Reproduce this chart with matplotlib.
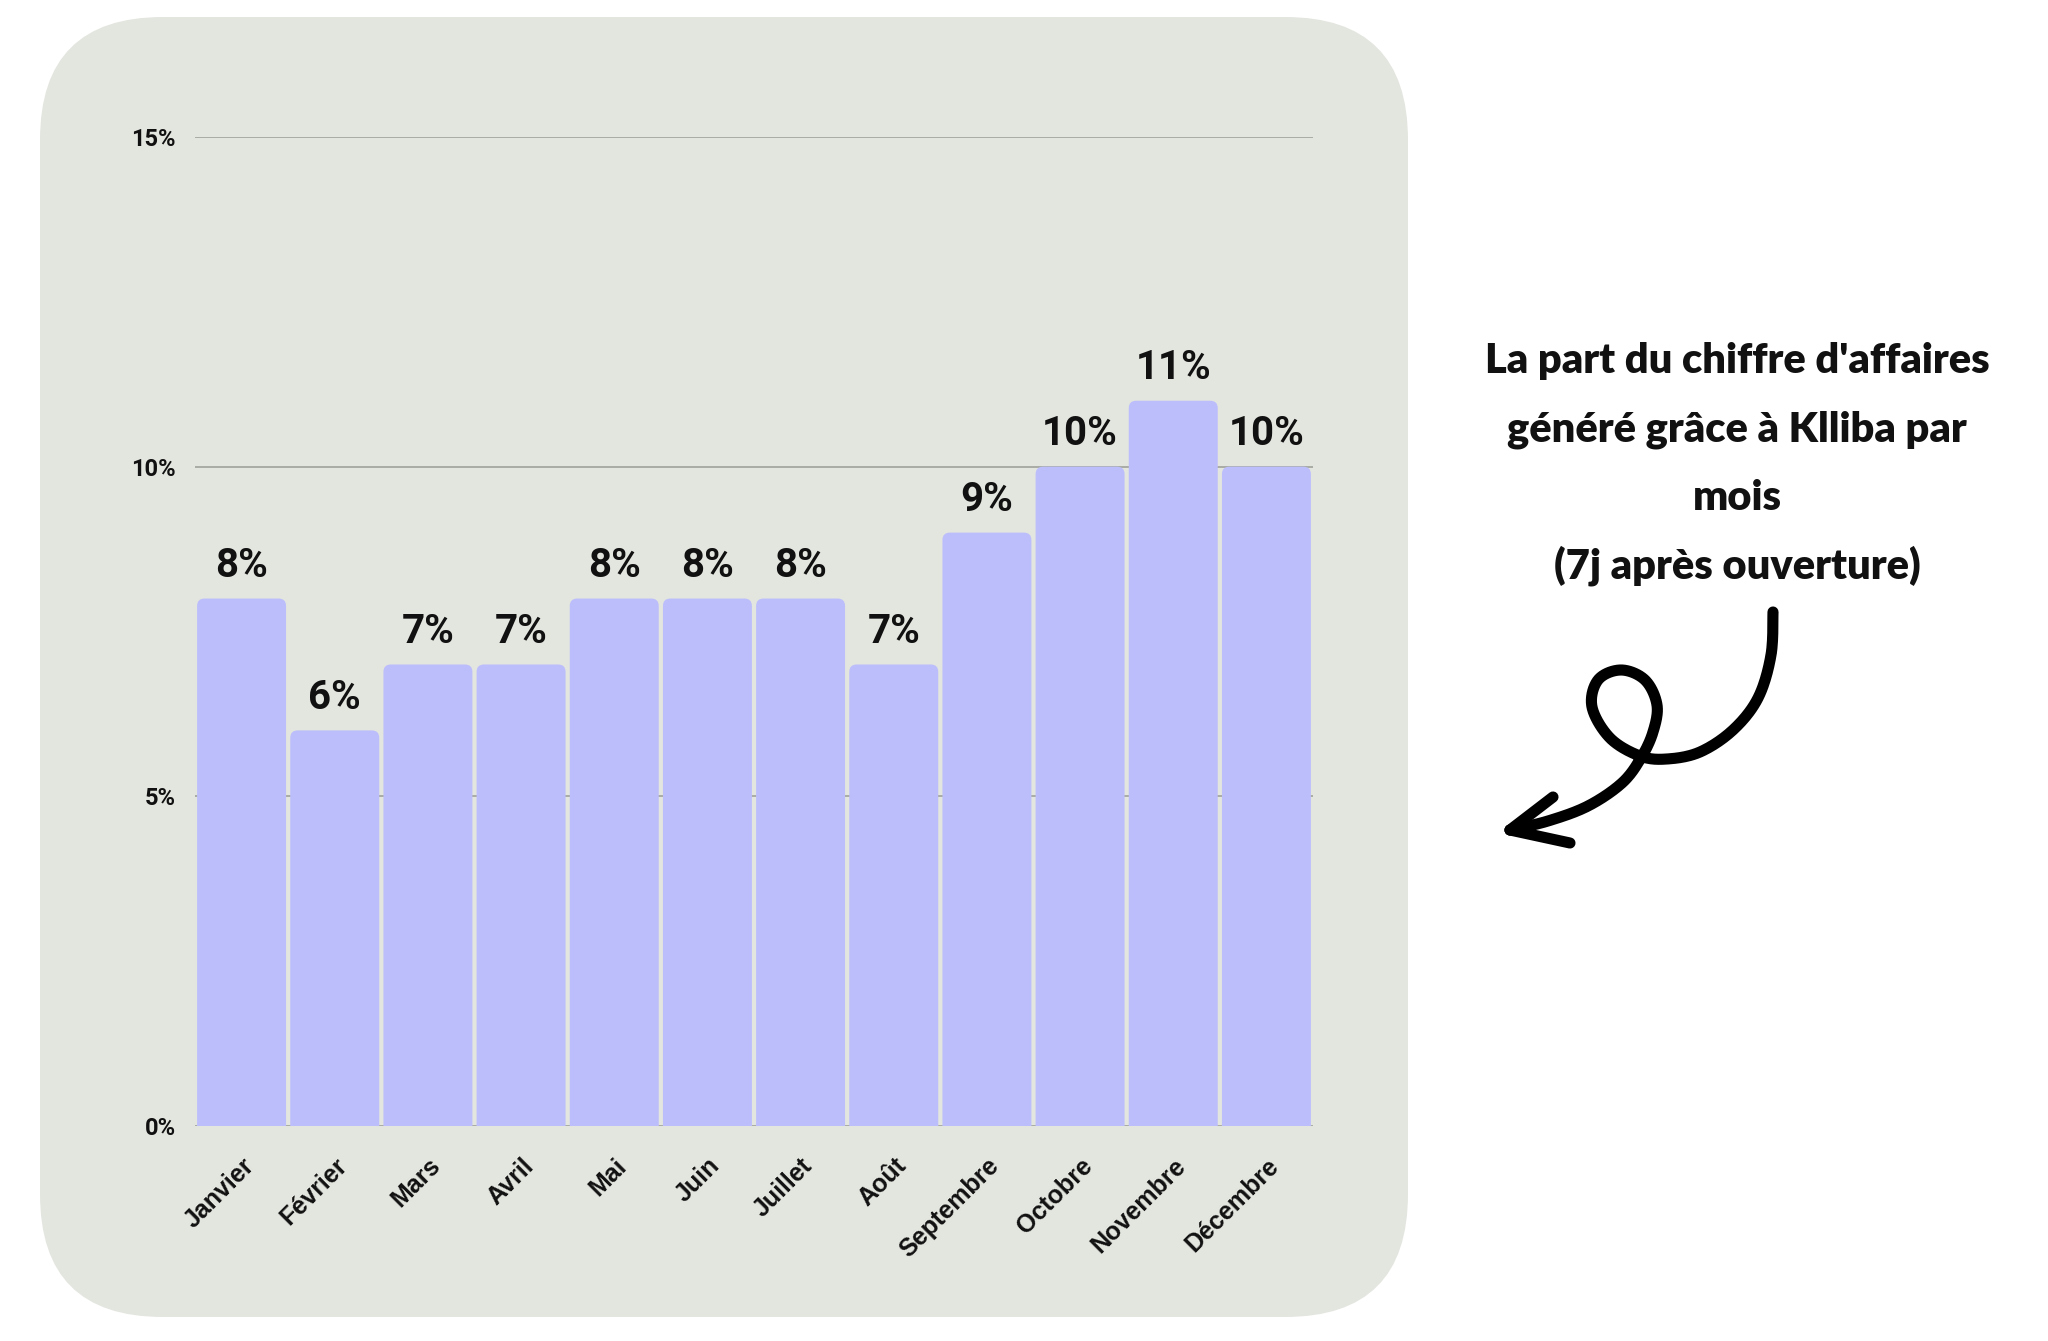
import numpy as np
import matplotlib
matplotlib.use("Agg")
import matplotlib.pyplot as plt
from matplotlib.patches import FancyBboxPatch

months = ["Janvier", "Février", "Mars", "Avril", "Mai", "Juin", "Juillet",
          "Août", "Septembre", "Octobre", "Novembre", "Décembre"]
values = [8, 6, 7, 7, 8, 8, 8, 7, 9, 10, 11, 10]
yticks = [0, 5, 10, 15]
ytick_labels = ["0%", "5%", "10%", "15%"]
title_lines = ["La part du chiffre d'affaires", "généré grâce à Klliba par", "mois",
               "(7j après ouverture)"]

W, H = 2048, 1341
fig = plt.figure(figsize=(W / 100, H / 100), dpi=100, facecolor="white")

def fx(px):
    return px / W
def fy(py):
    return 1 - py / H

panel = FancyBboxPatch((fx(40), fy(1317)), fx(1408) - fx(40), fy(17) - fy(1317),
                       boxstyle="round,pad=0,rounding_size=0.06",
                       mutation_aspect=W / H,
                       transform=fig.transFigure, facecolor="#E3E6DF",
                       edgecolor="none", zorder=-5)
fig.patches.append(panel)

ax = fig.add_axes([fx(195), fy(1126), fx(1313) - fx(195), fy(137) - fy(1126)])
ax.set_zorder(2)
ax.set_facecolor("none")
x = np.arange(len(months))
bars = ax.bar(x, values, width=0.955, color="#BCBEFB", zorder=2)
for b in bars:
    b.set_visible(False)
    p = FancyBboxPatch((b.get_x(), -0.3), b.get_width(), b.get_height() + 0.3,
                       boxstyle="round,pad=0,rounding_size=0.08",
                       mutation_aspect=1.4, facecolor="#BCBEFB",
                       edgecolor="none", zorder=2, clip_on=True)
    ax.add_patch(p)

ax.set_xlim(-0.5, len(months) - 0.5)
ax.set_ylim(0, 15)
ax.set_yticks(yticks)
ax.set_yticklabels(ytick_labels)
ax.grid(axis="y", color="#A9ACA5", linewidth=1.4, zorder=1)
ax.set_axisbelow(True)
for s in ax.spines.values():
    s.set_visible(False)
ax.tick_params(axis="both", length=0)
ax.tick_params(axis="y", pad=14)
for lab in ax.get_yticklabels():
    lab.set_fontfamily("Roboto")
    lab.set_fontweight("bold")
    lab.set_fontsize(17)
    lab.set_color("#111111")

ax.set_xticks(x)
ax.set_xticklabels(months, rotation=45, ha="right", va="top",
                   rotation_mode="anchor", fontfamily="Liberation Sans",
                   fontweight="bold", fontsize=18, color="#111111")
ax.tick_params(axis="x", pad=20)

for xi, v in zip(x, values):
    ax.annotate(f"{v}%", (xi, v), xytext=(0, 10), textcoords="offset points",
                ha="center", va="bottom", fontfamily="Roboto", fontweight="bold",
                fontsize=29, color="#111111")

baselines = [373, 441, 510, 578]
for line, by in zip(title_lines, baselines):
    fig.text(fx(1737), fy(by), line, ha="center", va="baseline",
             fontfamily="Lato", fontweight="heavy", fontsize=30, color="#111111")

# hand-drawn curly arrow (decoration, pixel coords)
pts = np.array([(1773, 612), (1771, 655), (1758, 698), (1733, 730), (1700, 752),
                (1667, 759), (1640, 756), (1610, 738), (1592, 707), (1598, 680),
                (1621, 670), (1645, 680), (1657, 705), (1653, 732), (1641, 758),
                (1622, 783), (1588, 806), (1548, 821), (1510, 830)], float)

def catmull(p, n=20):
    out = []
    P = np.vstack([p[0], p, p[-1]])
    for i in range(1, len(P) - 2):
        p0, p1, p2, p3 = P[i - 1], P[i], P[i + 1], P[i + 2]
        for t in np.linspace(0, 1, n, endpoint=False):
            t2, t3 = t * t, t * t * t
            out.append(0.5 * ((2 * p1) + (-p0 + p2) * t + (2 * p0 - 5 * p1 + 4 * p2 - p3) * t2
                              + (-p0 + 3 * p1 - 3 * p2 + p3) * t3))
    out.append(p[-1])
    return np.array(out)

curve = catmull(pts)
fig.add_artist(plt.Line2D(curve[:, 0] / W, 1 - curve[:, 1] / H, transform=fig.transFigure,
                          color="black", linewidth=8, solid_capstyle="round",
                          solid_joinstyle="round"))
for hx, hy in [(1553, 797), (1570, 843)]:
    fig.add_artist(plt.Line2D([1510 / W, hx / W], [1 - 830 / H, 1 - hy / H],
                              transform=fig.transFigure, color="black", linewidth=8,
                              solid_capstyle="round"))

fig.savefig("out.png", dpi=100, facecolor="white")
